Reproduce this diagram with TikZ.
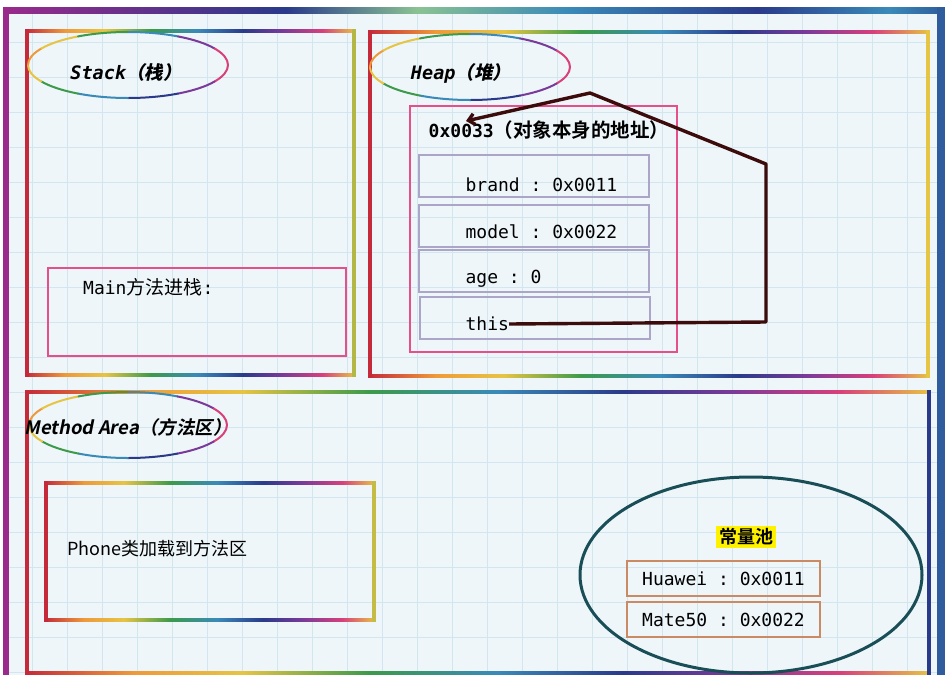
\documentclass[tikz,border=0pt]{standalone}
\usepackage{fontspec}
\setmonofont{DejaVu Sans Mono}
\setsansfont{DejaVu Sans}
\newfontfamily\cjk[BoldFont={Noto Sans CJK SC Bold}]{Noto Sans CJK SC}
\newfontfamily\cjkslant[FakeSlant=0.2]{Noto Sans CJK SC Bold}
\usetikzlibrary{arrows.meta}
\newcommand{\bigtxt}{\fontsize{18}{21}\selectfont}
\newcommand{\labeltxt}{\fontsize{18.5}{21}\selectfont}
\definecolor{paper}{HTML}{EEF6F9}
\definecolor{gridblue}{HTML}{D2E6EF}
\definecolor{framepurple}{HTML}{9A2A8C}
\definecolor{frameblue}{HTML}{2E5C9C}
\definecolor{rbred}{HTML}{C42A3A}
\definecolor{rborange}{HTML}{EE9A3A}
\definecolor{rbyellow}{HTML}{E6C444}
\definecolor{rbgreen}{HTML}{3C9A4A}
\definecolor{rbblue}{HTML}{3A8AB8}
\definecolor{rbnavy}{HTML}{2A3A8A}
\definecolor{rbviolet}{HTML}{7A3A9A}
\definecolor{rbpink}{HTML}{D8407A}
\definecolor{objpink}{HTML}{E5508A}
\definecolor{fieldgrey}{HTML}{ABA5C8}
\definecolor{pooltan}{HTML}{C98A64}
\definecolor{poolteal}{HTML}{1A4E56}
\definecolor{linkdark}{HTML}{3C0C0C}
\pgfdeclarehorizontalshading{rainbow}{100bp}{color(0bp)=(rbred); color(25bp)=(rbred);
  color(31bp)=(rborange); color(37bp)=(rbyellow); color(44bp)=(rbgreen); color(51bp)=(rbblue);
  color(58bp)=(rbnavy); color(64bp)=(rbviolet); color(70bp)=(rbpink); color(75bp)=(rbyellow);
  color(100bp)=(rbyellow)}
\pgfdeclarehorizontalshading{framesh}{100bp}{color(0bp)=(framepurple); color(25bp)=(framepurple);
  color(40bp)=(rbnavy); color(47bp)=(rbgreen!60!white); color(55bp)=(rbblue); color(65bp)=(rbnavy);
  color(72bp)=(rbblue); color(75bp)=(frameblue); color(100bp)=(frameblue)}
\tikzset{gridline/.style={gridblue, line width=0.8pt}}
\tikzset{ringseg/.style={line width=2pt, line cap=round}}
\tikzset{arealbl/.style={inner sep=0pt, font=\labeltxt}}
\tikzset{fieldbox/.style={draw=fieldgrey, line width=1.2pt, minimum width=230, minimum height=42, inner sep=0pt}}
\tikzset{fieldtxt/.style={anchor=west, inner sep=0pt, font=\ttfamily\bigtxt}}
\tikzset{poolbox/.style={draw=pooltan, line width=2pt, minimum width=193, minimum height=35, inner sep=0pt, font=\ttfamily\bigtxt}}
\tikzset{linkarrow/.style={linkdark, line width=3.4pt, line join=round, -{Straight Barb[length=6pt,width=11pt]}}}
\newcommand{\rainbowbox}[5]{%
  \shade[shading=rainbow] (#1-1.6,#2-1.6) rectangle (#3+1.6,#2+1.6);
  \shade[shading=rainbow] (#1-1.6,#4-1.6) rectangle (#3+1.6,#4+1.6);
  \fill[rbred] (#1-1.6,#2-1.6) rectangle (#1+1.6,#4+1.6);
  \fill[#5] (#3-1.6,#2-1.6) rectangle (#3+1.6,#4+1.6);}
\newcommand{\rainbowring}[4]{%
  \foreach \a/\c in {0/rbpink,30/rbviolet,60/rbnavy,90/rbblue,120/rbgreen,150/rbyellow,
      180/rborange,210/rbyellow,240/rbgreen,270/rbblue,300/rbviolet,330/rbpink}
    \draw[ringseg,\c] ([shift={(\a:#3 and #4)}]#1,#2) arc[start angle=\a,delta angle=30,x radius=#3,y radius=#4];}

\begin{document}
\begin{tikzpicture}[x=1pt,y=-1pt]
  \useasboundingbox (0,0) rectangle (945,675);
  \fill[white] (0,0) rectangle (945,675);
  \fill[paper] (9,13) rectangle (937,675);
  \foreach \x in {32,67,...,932} \draw[gridline] (\x,13) -- (\x,675);
  \foreach \y in {42,77,...,672} \draw[gridline] (9,\y) -- (937,\y);
  \fill[framepurple] (3,7) rectangle (9,675);
  \shade[shading=framesh] (3,7) rectangle (945,13);
  \fill[frameblue] (937,7) rectangle (945,675);

  \rainbowbox{27}{31}{354}{375}{rbyellow!70!rbgreen}
  \rainbowbox{370}{32}{928}{376}{rbyellow}
  \rainbowbox{27}{392}{929}{673}{rbnavy}
  \rainbowbox{46}{483}{374}{620}{rbyellow!80!rbgreen}

  \rainbowring{128}{65}{100}{33}
  \rainbowring{470}{67}{100}{33}
  \rainbowring{128}{425}{99}{33}

  \node[arealbl] (stacklbl) at (126,72) {\ttfamily\bfseries\itshape Stack{\cjkslant （栈）}};
  \node[arealbl] (heaplbl) at (461,73) {\ttfamily\bfseries\itshape Heap{\cjkslant （堆）}};
  \node[arealbl] (methodlbl) at (128,427) {\cjkslant Method Area（方法区）};

  \node[draw=objpink, line width=1.4pt, minimum width=298, minimum height=88] (mainframe) at (197,312) {};
  \node[anchor=west, inner sep=0pt, font=\bigtxt] (maintxt) at (83,287) {\ttfamily Main{\cjk\fontsize{19}{21}\selectfont 方法进栈}:};

  \node[draw=objpink, line width=2pt, minimum width=267, minimum height=246] (objframe) at (543.5,229) {};
  \node[inner sep=0pt, font=\bigtxt] (objtitle) at (549,130) {\ttfamily\bfseries 0x0033{\cjk\bfseries\fontsize{19.5}{21}\selectfont （对象本身的地址）}};
  \node[fieldbox] (brandbox) at (534,176) {};
  \node[fieldbox] (modelbox) at (534,226) {};
  \node[fieldbox] (agebox) at (534,271) {};
  \node[fieldbox] (thisbox) at (535,318) {};
  \node[fieldtxt] (brandtxt) at ([xshift=47pt,yshift=-9pt]brandbox.west) {brand : 0x0011};
  \node[fieldtxt] (modeltxt) at ([xshift=47pt,yshift=-6pt]modelbox.west) {model : 0x0022};
  \node[fieldtxt] (agetxt) at ([xshift=47pt,yshift=-8pt]agebox.west) {age : 0};
  \node[fieldtxt] (thistxt) at ([xshift=46pt,yshift=-6pt]thisbox.west) {this};

  \coordinate (bendlow) at (766,322);
  \coordinate (bendhigh) at (766,164);
  \coordinate (peak) at (590,93);
  \coordinate (tip) at (466,121);
  \draw[linkarrow] (thistxt.east) -- (bendlow) -- (bendhigh) -- (peak) -- (tip);

  \node[anchor=west, inner sep=0pt, font=\bigtxt] (phonetxt) at (67,549) {\cjk Phone类加载到方法区};

  \draw[poolteal, line width=3pt] (751,575) ellipse [x radius=171, y radius=98];
  \node[fill=yellow, inner sep=3pt, font=\bigtxt] (poollbl) at (746,537) {\cjk\bfseries 常量池};
  \node[poolbox] (huaweibox) at (723.5,578.5) {Huawei : 0x0011};
  \node[poolbox] (matebox) at (723.5,619.5) {Mate50 : 0x0022};
\end{tikzpicture}
\end{document}
